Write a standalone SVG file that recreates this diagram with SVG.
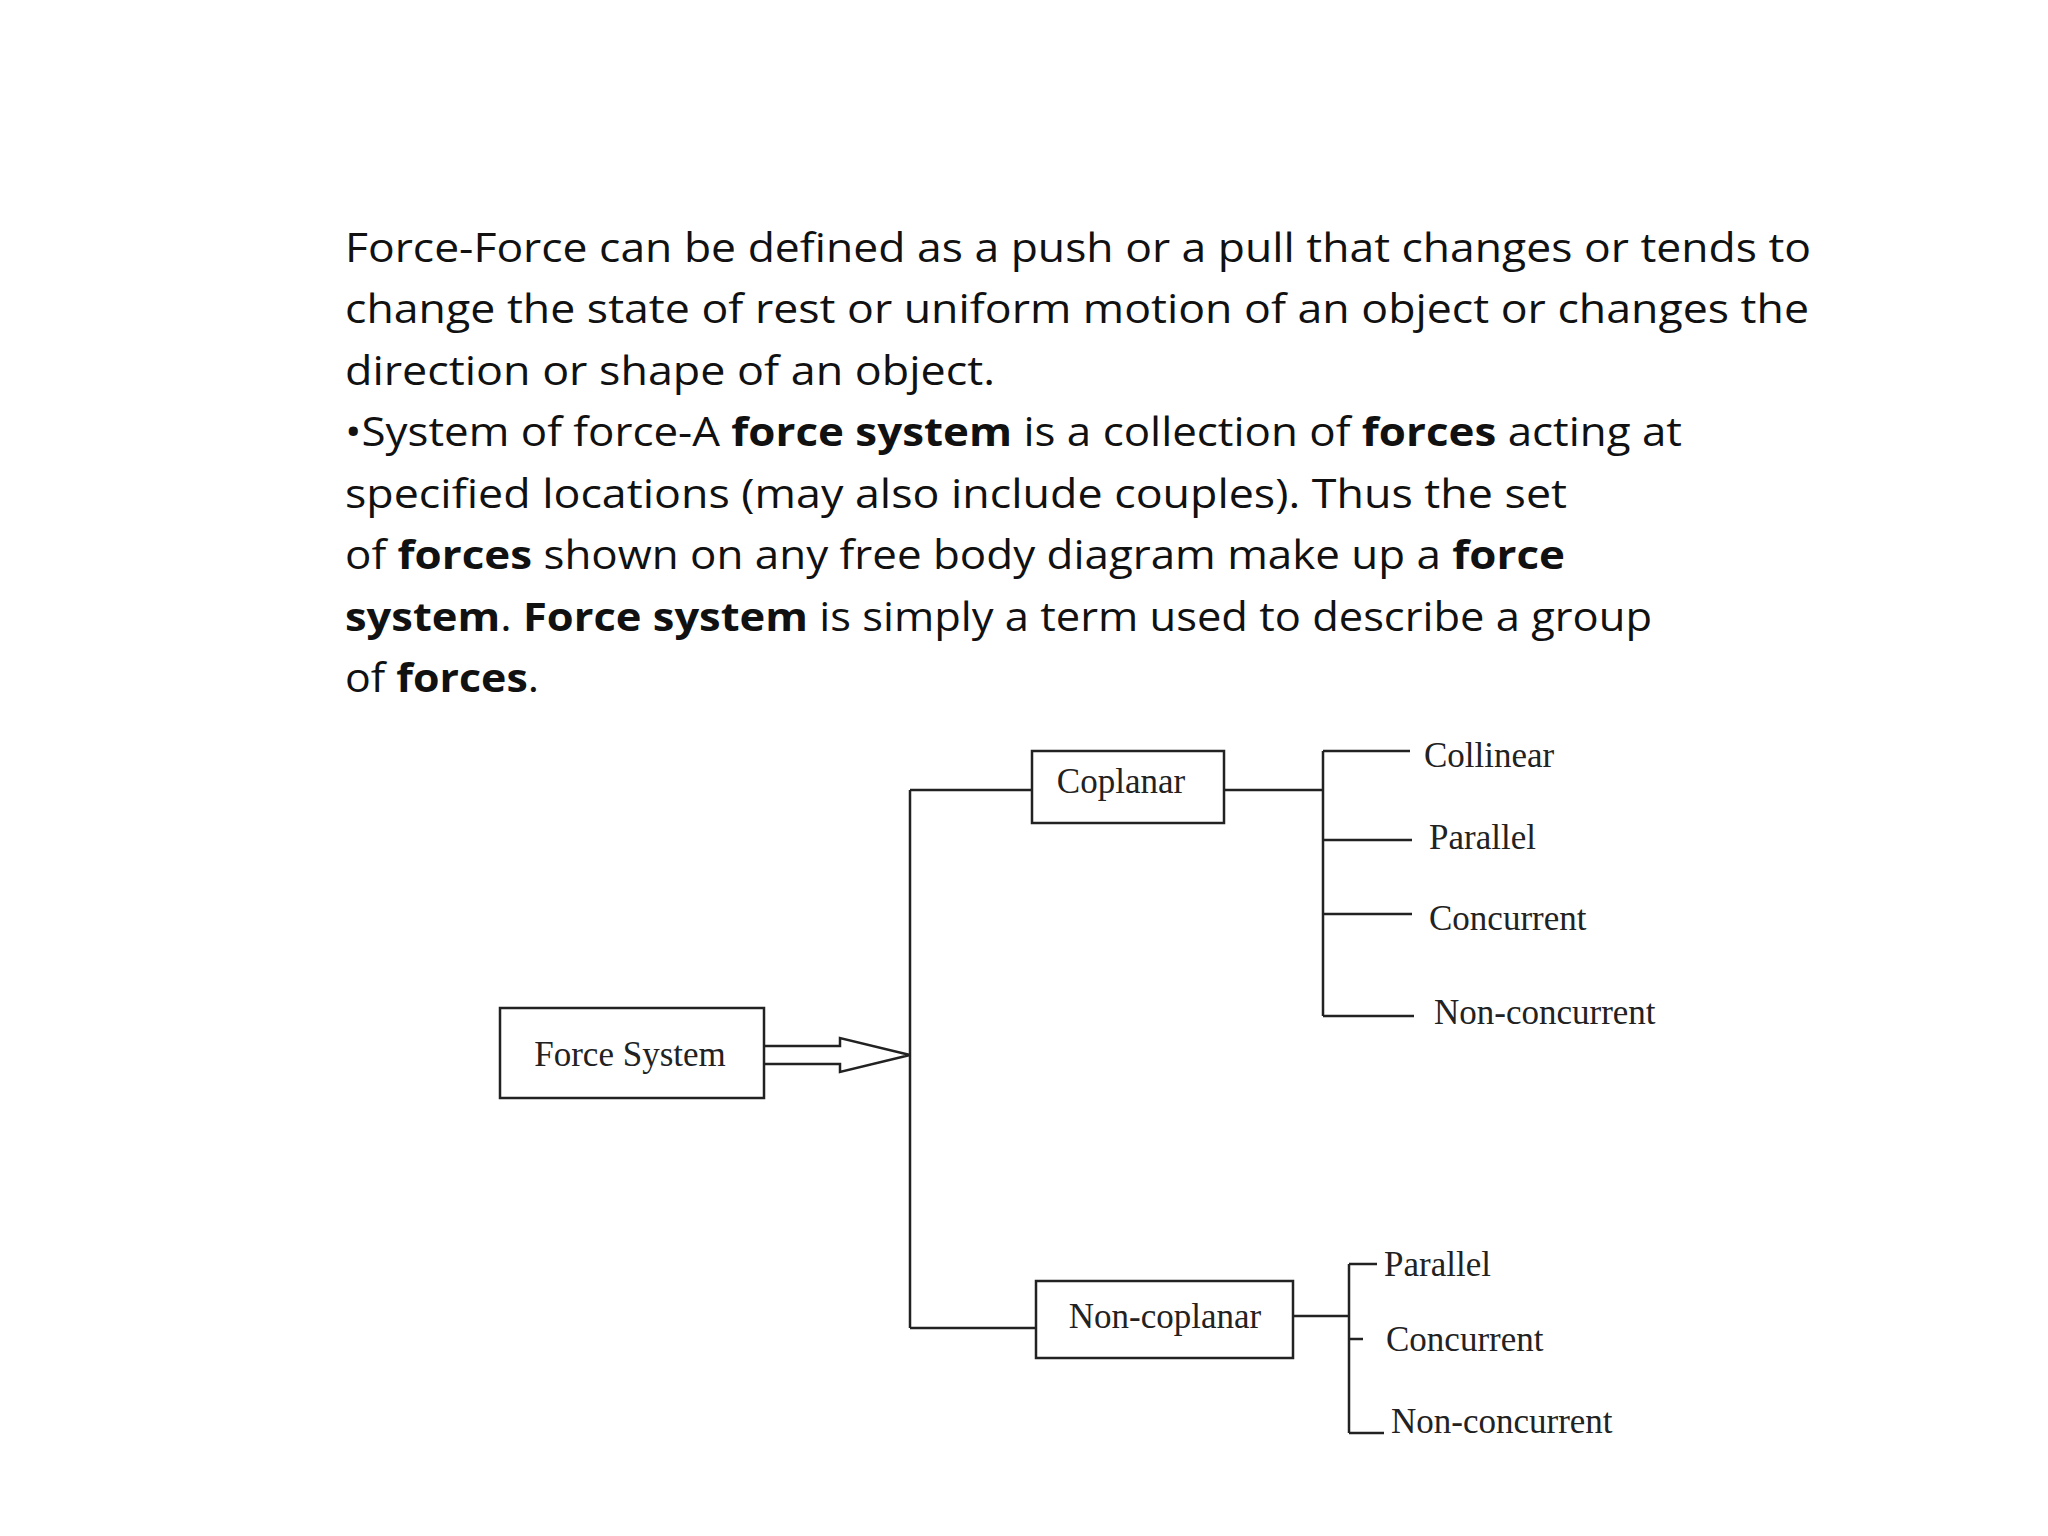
<svg xmlns="http://www.w3.org/2000/svg" width="2048" height="1536" viewBox="0 0 2048 1536">
<style>
.p{font-family:"Open Sans","Liberation Sans",sans-serif;font-size:40px;fill:#111}
.b{font-weight:bold}
.n{fill:#fff;stroke:#222;stroke-width:2.5}
.l{font-family:"Liberation Serif",serif;font-size:35px;fill:#222}
.c{fill:none;stroke:#222;stroke-width:2.5}
</style>
<rect width="2048" height="1536" fill="#fff"/>
<g id="para">
<text class="p" x="345" y="262" textLength="1466" lengthAdjust="spacingAndGlyphs">Force-Force can be defined as a push or a pull that changes or tends to</text>
<text class="p" x="345" y="323" textLength="1464" lengthAdjust="spacingAndGlyphs">change the state of rest or uniform motion of an object or changes the</text>
<text class="p" x="345" y="385" textLength="650" lengthAdjust="spacingAndGlyphs">direction or shape of an object.</text>
<text class="p" x="345" y="446" textLength="1337" lengthAdjust="spacingAndGlyphs">•System of force-A <tspan class="b">force system</tspan> is a collection of <tspan class="b">forces</tspan> acting at</text>
<text class="p" x="345" y="508" textLength="1222" lengthAdjust="spacingAndGlyphs">specified locations (may also include couples). Thus the set</text>
<text class="p" x="345" y="569" textLength="1220" lengthAdjust="spacingAndGlyphs">of <tspan class="b">forces</tspan> shown on any free body diagram make up a <tspan class="b">force</tspan></text>
<text class="p" x="345" y="631" textLength="1307" lengthAdjust="spacingAndGlyphs"><tspan class="b">system</tspan>. <tspan class="b">Force system</tspan> is simply a term used to describe a group</text>
<text class="p" x="345" y="692" textLength="194" lengthAdjust="spacingAndGlyphs">of <tspan class="b">forces</tspan>.</text>
</g>
<g id="connectors">
<path class="c" d="M764,1046 H840 V1038 L910,1055 L840,1072 V1064 H764"/>
<path class="c" d="M910,790 V1328 M910,790 H1032 M910,1328 H1036"/>
<path class="c" d="M1224,790 H1323 M1323,751 V1016 M1323,751 H1410 M1323,840 H1412 M1323,914 H1412 M1323,1016 H1414"/>
<path class="c" d="M1293,1316 H1349 M1349,1264 V1433 M1349,1264 H1377 M1349,1339 H1363 M1349,1433 H1384"/>
</g>
<g id="force-system"><rect class="n" x="500" y="1008" width="264" height="90"/><text class="l" x="630" y="1066" text-anchor="middle">Force System</text></g>
<g id="coplanar"><rect class="n" x="1032" y="751" width="192" height="72"/><text class="l" x="1121" y="793" text-anchor="middle">Coplanar</text></g>
<g id="non-coplanar"><rect class="n" x="1036" y="1281" width="257" height="77"/><text class="l" x="1165" y="1328" text-anchor="middle">Non-coplanar</text></g>
<g id="cop-collinear"><text class="l" x="1424" y="767">Collinear</text></g>
<g id="cop-parallel"><text class="l" x="1429" y="849">Parallel</text></g>
<g id="cop-concurrent"><text class="l" x="1429" y="930">Concurrent</text></g>
<g id="cop-nonconcurrent"><text class="l" x="1434" y="1024">Non-concurrent</text></g>
<g id="nc-parallel"><text class="l" x="1384" y="1276">Parallel</text></g>
<g id="nc-concurrent"><text class="l" x="1386" y="1351">Concurrent</text></g>
<g id="nc-nonconcurrent"><text class="l" x="1391" y="1433">Non-concurrent</text></g>
</svg>
